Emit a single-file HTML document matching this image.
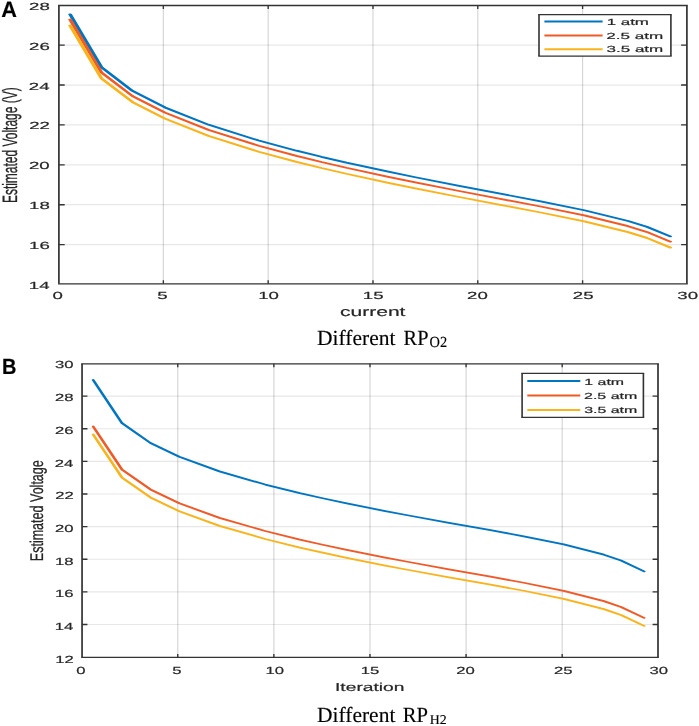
<!DOCTYPE html>
<html><head><meta charset="utf-8"><style>
html,body{margin:0;padding:0;background:#fff;}
body{width:699px;height:726px;overflow:hidden;font-family:"Liberation Sans",sans-serif;}
svg{display:block;will-change:transform;} text{text-rendering:geometricPrecision;}
</style></head><body>
<svg width="699" height="726" viewBox="0 0 699 726">
<rect width="699" height="726" fill="#fff"/>
<path d="M163.36 5.50V283.85M268.17 5.50V283.85M372.98 5.50V283.85M477.78 5.50V283.85M582.59 5.50V283.85" stroke="rgba(0,0,0,0.16)" stroke-width="1.2" fill="none"/>
<path d="M58.90 244.61H686.90M58.90 204.72H686.90M58.90 164.83H686.90M58.90 124.93H686.90M58.90 85.04H686.90M58.90 45.15H686.90" stroke="rgba(0,0,0,0.095)" stroke-width="1.2" fill="none"/>
<g transform="scale(2.0,1)">
<polyline points="35.039,14.32 50.761,67.25 66.272,90.93 82.518,107.45 104.423,124.86 129.367,140.55 148.232,150.68 160.705,156.81 173.177,162.60 194.139,171.70 207.659,177.24 229.564,185.82 251.469,194.13 270.334,201.32 292.134,210.21 314.039,220.97 323.367,226.71 335.106,236.39" fill="none" stroke="#0075C2" stroke-width="1.8" stroke-linejoin="round" stroke-linecap="round"/>
<polyline points="35.039,19.51 50.761,72.44 66.272,96.12 82.518,112.64 104.423,130.05 129.367,145.73 148.232,155.86 160.705,162.00 173.177,167.79 194.139,176.88 207.659,182.42 229.564,191.01 251.469,199.32 270.334,206.51 292.134,215.39 314.039,226.16 323.367,231.90 335.106,241.57" fill="none" stroke="#F05A26" stroke-width="1.8" stroke-linejoin="round" stroke-linecap="round"/>
<polyline points="35.039,25.49 50.761,78.42 66.272,102.10 82.518,118.62 104.423,136.03 129.367,151.72 148.232,161.85 160.705,167.98 173.177,173.77 194.139,182.87 207.659,188.41 229.564,196.99 251.469,205.30 270.334,212.49 292.134,221.38 314.039,232.14 323.367,237.88 335.106,247.56" fill="none" stroke="#F9B41D" stroke-width="1.8" stroke-linejoin="round" stroke-linecap="round"/>
</g>
<path d="M163.36 283.85v-3.6M163.36 5.50v3.6M268.17 283.85v-3.6M268.17 5.50v3.6M372.98 283.85v-3.6M372.98 5.50v3.6M477.78 283.85v-3.6M477.78 5.50v3.6M582.59 283.85v-3.6M582.59 5.50v3.6M58.90 244.61h5.8M686.90 244.61h-5.8M58.90 204.72h5.8M686.90 204.72h-5.8M58.90 164.83h5.8M686.90 164.83h-5.8M58.90 124.93h5.8M686.90 124.93h-5.8M58.90 85.04h5.8M686.90 85.04h-5.8M58.90 45.15h5.8M686.90 45.15h-5.8" stroke="#333333" stroke-width="1.35" fill="none"/>
<path d="M58.90 5.50V283.85M686.90 5.50V283.85" stroke="#333333" stroke-width="1.7" fill="none"/>
<path d="M58.05 5.50H687.75M58.05 283.85H687.75" stroke="#333333" stroke-width="1.35" fill="none"/>
<rect x="539.00" y="14.60" width="131.90" height="41.50" fill="#fff" stroke="none"/>
<path d="M544.4 21.6H602.6" stroke="#0075C2" stroke-width="2.0"/>
<path d="M544.4 35.4H602.6" stroke="#F05A26" stroke-width="2.0"/>
<path d="M544.4 49.3H602.6" stroke="#F9B41D" stroke-width="2.0"/>
<path d="M539.00 14.60V56.10M670.90 14.60V56.10" stroke="#333333" stroke-width="1.6" fill="none"/>
<path d="M538.20 14.60H671.70M538.20 56.10H671.70" stroke="#333333" stroke-width="1.2" fill="none"/>
<text transform="translate(606.63,25.41) scale(1.9044,1)" font-family='"Liberation Sans", sans-serif' font-size="8.90" fill="#262626" stroke="#262626" stroke-width="0.18" stroke-linejoin="round">1 atm</text>
<text transform="translate(606.34,38.81) scale(1.9234,1)" font-family='"Liberation Sans", sans-serif' font-size="8.90" fill="#262626" stroke="#262626" stroke-width="0.18" stroke-linejoin="round">2.5 atm</text>
<text transform="translate(606.55,52.21) scale(1.9162,1)" font-family='"Liberation Sans", sans-serif' font-size="8.90" fill="#262626" stroke="#262626" stroke-width="0.18" stroke-linejoin="round">3.5 atm</text>
<text transform="translate(28.81,288.94) scale(1.8100,1)" font-family='"Liberation Sans", sans-serif' font-size="10.30" fill="#262626" stroke="#262626" stroke-width="0.18" stroke-linejoin="round">14</text>
<text transform="translate(29.08,249.05) scale(1.8100,1)" font-family='"Liberation Sans", sans-serif' font-size="10.30" fill="#262626" stroke="#262626" stroke-width="0.18" stroke-linejoin="round">16</text>
<text transform="translate(29.07,209.16) scale(1.8100,1)" font-family='"Liberation Sans", sans-serif' font-size="10.30" fill="#262626" stroke="#262626" stroke-width="0.18" stroke-linejoin="round">18</text>
<text transform="translate(28.99,169.27) scale(1.8100,1)" font-family='"Liberation Sans", sans-serif' font-size="10.30" fill="#262626" stroke="#262626" stroke-width="0.18" stroke-linejoin="round">20</text>
<text transform="translate(29.20,129.43) scale(1.8100,1)" font-family='"Liberation Sans", sans-serif' font-size="10.30" fill="#262626" stroke="#262626" stroke-width="0.18" stroke-linejoin="round">22</text>
<text transform="translate(28.81,89.54) scale(1.8100,1)" font-family='"Liberation Sans", sans-serif' font-size="10.30" fill="#262626" stroke="#262626" stroke-width="0.18" stroke-linejoin="round">24</text>
<text transform="translate(29.08,49.60) scale(1.8100,1)" font-family='"Liberation Sans", sans-serif' font-size="10.30" fill="#262626" stroke="#262626" stroke-width="0.18" stroke-linejoin="round">26</text>
<text transform="translate(29.07,9.71) scale(1.8100,1)" font-family='"Liberation Sans", sans-serif' font-size="10.30" fill="#262626" stroke="#262626" stroke-width="0.18" stroke-linejoin="round">28</text>
<text transform="translate(52.57,299.30) scale(1.8100,1)" font-family='"Liberation Sans", sans-serif' font-size="10.30" fill="#262626" stroke="#262626" stroke-width="0.18" stroke-linejoin="round">0</text>
<text transform="translate(157.13,299.30) scale(1.8100,1)" font-family='"Liberation Sans", sans-serif' font-size="10.30" fill="#262626" stroke="#262626" stroke-width="0.18" stroke-linejoin="round">5</text>
<text transform="translate(258.13,299.30) scale(1.8100,1)" font-family='"Liberation Sans", sans-serif' font-size="10.30" fill="#262626" stroke="#262626" stroke-width="0.18" stroke-linejoin="round">10</text>
<text transform="translate(362.76,299.30) scale(1.8100,1)" font-family='"Liberation Sans", sans-serif' font-size="10.30" fill="#262626" stroke="#262626" stroke-width="0.18" stroke-linejoin="round">15</text>
<text transform="translate(467.03,299.30) scale(1.8100,1)" font-family='"Liberation Sans", sans-serif' font-size="10.30" fill="#262626" stroke="#262626" stroke-width="0.18" stroke-linejoin="round">20</text>
<text transform="translate(572.85,299.30) scale(1.8100,1)" font-family='"Liberation Sans", sans-serif' font-size="10.30" fill="#262626" stroke="#262626" stroke-width="0.18" stroke-linejoin="round">25</text>
<text transform="translate(677.34,299.30) scale(1.8100,1)" font-family='"Liberation Sans", sans-serif' font-size="10.30" fill="#262626" stroke="#262626" stroke-width="0.18" stroke-linejoin="round">30</text>
<text transform="translate(339.91,315.88) scale(1.6454,1)" font-family='"Liberation Sans", sans-serif' font-size="12.80" fill="#262626" stroke="#262626" stroke-width="0.18" stroke-linejoin="round">current</text>
<text transform="translate(17.10,203.08) scale(1.7283,1) rotate(-90)" font-family='"Liberation Sans", sans-serif' font-size="11.98" fill="#262626" stroke="#262626" stroke-width="0.18" stroke-linejoin="round">Estimated Voltage (V)</text>
<text transform="translate(1.36,17.20) scale(0.9786,1)" font-family='"Liberation Sans", sans-serif' font-weight="bold" font-size="22.24" fill="#000" stroke="#000" stroke-width="0.18" stroke-linejoin="round">A</text>
<text transform="translate(317.08,344.59) scale(0.9995,1)" font-family='"Liberation Serif", serif' font-size="21.50" fill="#000" stroke="#000" stroke-width="0.144" stroke-linejoin="round">Different</text>
<text transform="translate(403.62,344.60) scale(0.9429,1)" font-family='"Liberation Serif", serif' font-size="21.50" fill="#000" stroke="#000" stroke-width="0.144" stroke-linejoin="round">RP</text>
<text transform="translate(429.61,346.85) scale(0.9385,1)" font-family='"Liberation Serif", serif' font-size="15.33" fill="#000" stroke="#000" stroke-width="0.144" stroke-linejoin="round">O2</text>
<path d="M177.76 363.80V657.30M273.87 363.80V657.30M369.98 363.80V657.30M466.08 363.80V657.30M562.19 363.80V657.30" stroke="rgba(0,0,0,0.16)" stroke-width="1.2" fill="none"/>
<path d="M82.05 624.48H658.00M82.05 591.86H658.00M82.05 559.23H658.00M82.05 526.61H658.00M82.05 493.99H658.00M82.05 461.37H658.00M82.05 428.74H658.00M82.05 396.12H658.00" stroke="rgba(0,0,0,0.095)" stroke-width="1.2" fill="none"/>
<g transform="scale(1.62,1)">
<polyline points="57.520,380.02 75.318,423.22 92.879,442.98 110.677,456.79 135.475,471.37 163.714,484.54 185.072,493.07 199.191,498.24 213.311,503.13 237.041,510.82 252.347,515.51 277.146,522.83 301.944,529.97 323.301,536.27 347.981,544.33 372.779,554.68 383.339,560.46 397.578,571.36" fill="none" stroke="#0075C2" stroke-width="1.8" stroke-linejoin="round" stroke-linecap="round"/>
<polyline points="57.520,426.50 75.318,469.71 92.879,489.46 110.677,503.27 135.475,517.86 163.714,531.03 185.072,539.56 199.191,544.73 213.311,549.61 237.041,557.30 252.347,562.00 277.146,569.31 301.944,576.46 323.301,582.76 347.981,590.82 372.779,601.16 383.339,606.95 397.578,617.85" fill="none" stroke="#F05A26" stroke-width="1.8" stroke-linejoin="round" stroke-linecap="round"/>
<polyline points="57.520,434.49 75.318,477.70 92.879,497.45 110.677,511.27 135.475,525.85 163.714,539.02 185.072,547.55 199.191,552.72 213.311,557.60 237.041,565.30 252.347,569.99 277.146,577.31 301.944,584.45 323.301,590.75 347.981,598.81 372.779,609.15 383.339,614.94 397.578,625.84" fill="none" stroke="#F9B41D" stroke-width="1.8" stroke-linejoin="round" stroke-linecap="round"/>
</g>
<path d="M177.76 657.30v-3.4M177.76 363.80v3.4M273.87 657.30v-3.4M273.87 363.80v3.4M369.98 657.30v-3.4M369.98 363.80v3.4M466.08 657.30v-3.4M466.08 363.80v3.4M562.19 657.30v-3.4M562.19 363.80v3.4M82.05 624.48h5.4M658.00 624.48h-5.4M82.05 591.86h5.4M658.00 591.86h-5.4M82.05 559.23h5.4M658.00 559.23h-5.4M82.05 526.61h5.4M658.00 526.61h-5.4M82.05 493.99h5.4M658.00 493.99h-5.4M82.05 461.37h5.4M658.00 461.37h-5.4M82.05 428.74h5.4M658.00 428.74h-5.4M82.05 396.12h5.4M658.00 396.12h-5.4" stroke="#333333" stroke-width="1.35" fill="none"/>
<path d="M82.05 363.80V657.30M658.00 363.80V657.30" stroke="#333333" stroke-width="1.7" fill="none"/>
<path d="M81.20 363.80H658.85M81.20 657.30H658.85" stroke="#333333" stroke-width="1.35" fill="none"/>
<rect x="522.10" y="373.30" width="121.30" height="44.10" fill="#fff" stroke="none"/>
<path d="M527.3 381.0H580.3" stroke="#0075C2" stroke-width="2.0"/>
<path d="M527.3 395.5H580.3" stroke="#F05A26" stroke-width="2.0"/>
<path d="M527.3 410.0H580.3" stroke="#F9B41D" stroke-width="2.0"/>
<path d="M522.10 373.30V417.40M643.40 373.30V417.40" stroke="#333333" stroke-width="1.6" fill="none"/>
<path d="M521.30 373.30H644.20M521.30 417.40H644.20" stroke="#333333" stroke-width="1.2" fill="none"/>
<text transform="translate(584.32,385.11) scale(1.7893,1)" font-family='"Liberation Sans", sans-serif' font-size="8.90" fill="#262626" stroke="#262626" stroke-width="0.18" stroke-linejoin="round">1 atm</text>
<text transform="translate(583.99,399.01) scale(1.8012,1)" font-family='"Liberation Sans", sans-serif' font-size="8.90" fill="#262626" stroke="#262626" stroke-width="0.18" stroke-linejoin="round">2.5 atm</text>
<text transform="translate(584.19,412.71) scale(1.7944,1)" font-family='"Liberation Sans", sans-serif' font-size="8.90" fill="#262626" stroke="#262626" stroke-width="0.18" stroke-linejoin="round">3.5 atm</text>
<text transform="translate(55.18,662.80) scale(1.6200,1)" font-family='"Liberation Sans", sans-serif' font-size="10.30" fill="#262626" stroke="#262626" stroke-width="0.18" stroke-linejoin="round">12</text>
<text transform="translate(54.83,630.03) scale(1.6200,1)" font-family='"Liberation Sans", sans-serif' font-size="10.30" fill="#262626" stroke="#262626" stroke-width="0.18" stroke-linejoin="round">14</text>
<text transform="translate(55.07,597.32) scale(1.6200,1)" font-family='"Liberation Sans", sans-serif' font-size="10.30" fill="#262626" stroke="#262626" stroke-width="0.18" stroke-linejoin="round">16</text>
<text transform="translate(55.07,564.61) scale(1.6200,1)" font-family='"Liberation Sans", sans-serif' font-size="10.30" fill="#262626" stroke="#262626" stroke-width="0.18" stroke-linejoin="round">18</text>
<text transform="translate(54.99,531.90) scale(1.6200,1)" font-family='"Liberation Sans", sans-serif' font-size="10.30" fill="#262626" stroke="#262626" stroke-width="0.18" stroke-linejoin="round">20</text>
<text transform="translate(55.18,499.24) scale(1.6200,1)" font-family='"Liberation Sans", sans-serif' font-size="10.30" fill="#262626" stroke="#262626" stroke-width="0.18" stroke-linejoin="round">22</text>
<text transform="translate(54.83,466.53) scale(1.6200,1)" font-family='"Liberation Sans", sans-serif' font-size="10.30" fill="#262626" stroke="#262626" stroke-width="0.18" stroke-linejoin="round">24</text>
<text transform="translate(55.07,433.77) scale(1.6200,1)" font-family='"Liberation Sans", sans-serif' font-size="10.30" fill="#262626" stroke="#262626" stroke-width="0.18" stroke-linejoin="round">26</text>
<text transform="translate(55.07,401.06) scale(1.6200,1)" font-family='"Liberation Sans", sans-serif' font-size="10.30" fill="#262626" stroke="#262626" stroke-width="0.18" stroke-linejoin="round">28</text>
<text transform="translate(54.99,368.35) scale(1.6200,1)" font-family='"Liberation Sans", sans-serif' font-size="10.30" fill="#262626" stroke="#262626" stroke-width="0.18" stroke-linejoin="round">30</text>
<text transform="translate(76.21,673.90) scale(1.6200,1)" font-family='"Liberation Sans", sans-serif' font-size="10.30" fill="#262626" stroke="#262626" stroke-width="0.18" stroke-linejoin="round">0</text>
<text transform="translate(172.18,673.90) scale(1.6200,1)" font-family='"Liberation Sans", sans-serif' font-size="10.30" fill="#262626" stroke="#262626" stroke-width="0.18" stroke-linejoin="round">5</text>
<text transform="translate(265.57,673.90) scale(1.6200,1)" font-family='"Liberation Sans", sans-serif' font-size="10.30" fill="#262626" stroke="#262626" stroke-width="0.18" stroke-linejoin="round">10</text>
<text transform="translate(360.75,673.90) scale(1.6200,1)" font-family='"Liberation Sans", sans-serif' font-size="10.30" fill="#262626" stroke="#262626" stroke-width="0.18" stroke-linejoin="round">15</text>
<text transform="translate(456.23,673.90) scale(1.6200,1)" font-family='"Liberation Sans", sans-serif' font-size="10.30" fill="#262626" stroke="#262626" stroke-width="0.18" stroke-linejoin="round">20</text>
<text transform="translate(554.05,673.90) scale(1.6200,1)" font-family='"Liberation Sans", sans-serif' font-size="10.30" fill="#262626" stroke="#262626" stroke-width="0.18" stroke-linejoin="round">25</text>
<text transform="translate(649.48,673.90) scale(1.6200,1)" font-family='"Liberation Sans", sans-serif' font-size="10.30" fill="#262626" stroke="#262626" stroke-width="0.18" stroke-linejoin="round">30</text>
<text transform="translate(335.02,690.59) scale(1.6624,1)" font-family='"Liberation Sans", sans-serif' font-size="11.57" fill="#262626" stroke="#262626" stroke-width="0.18" stroke-linejoin="round">Iteration</text>
<text transform="translate(43.39,561.23) scale(1.4627,1) rotate(-90)" font-family='"Liberation Sans", sans-serif' font-size="12.54" fill="#262626" stroke="#262626" stroke-width="0.18" stroke-linejoin="round">Estimated Voltage</text>
<text transform="translate(1.96,374.40) scale(0.9114,1)" font-family='"Liberation Sans", sans-serif' font-weight="bold" font-size="21.95" fill="#000" stroke="#000" stroke-width="0.18" stroke-linejoin="round">B</text>
<text transform="translate(317.08,721.99) scale(0.9982,1)" font-family='"Liberation Serif", serif' font-size="21.50" fill="#000" stroke="#000" stroke-width="0.144" stroke-linejoin="round">Different</text>
<text transform="translate(402.71,722.00) scale(0.9590,1)" font-family='"Liberation Serif", serif' font-size="21.50" fill="#000" stroke="#000" stroke-width="0.144" stroke-linejoin="round">RP</text>
<text transform="translate(429.80,723.60) scale(1.0327,1)" font-family='"Liberation Serif", serif' font-size="13.44" fill="#000" stroke="#000" stroke-width="0.144" stroke-linejoin="round">H2</text>
</svg>
</body></html>
